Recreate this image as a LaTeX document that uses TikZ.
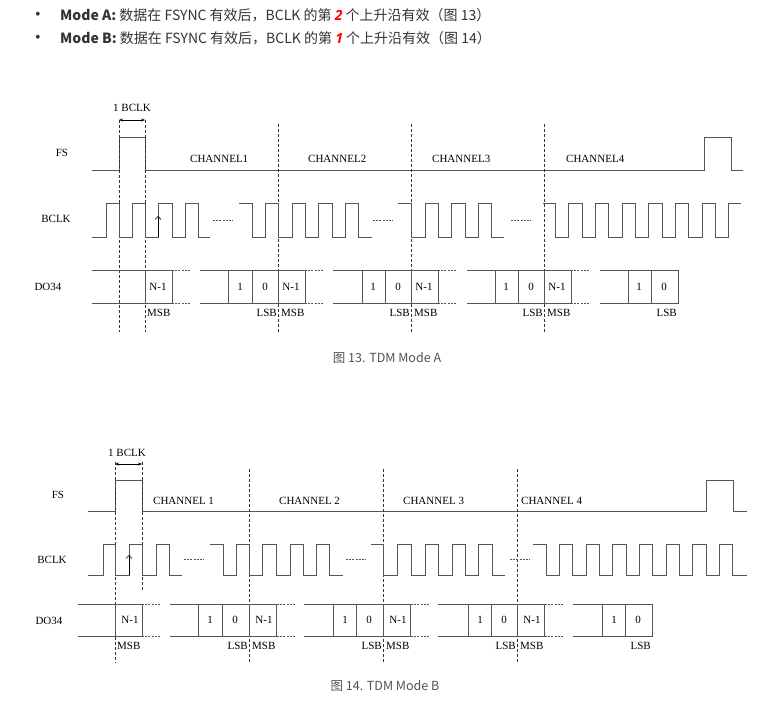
\documentclass[tikz,border=0pt]{standalone}
\usepackage{fontspec}
\setmainfont{Liberation Serif}
\newfontfamily\cjk{Noto Sans CJK SC}
\newfontfamily\lsans{Open Sans}
\usetikzlibrary{arrows.meta}
\definecolor{wv}{HTML}{555555}
\definecolor{tx}{HTML}{333333}
\begin{document}
\begin{tikzpicture}[x=1pt,y=-1pt,
  w/.style={draw=wv,line width=0.9pt},
  vd/.style={draw=black!80,densely dashed,line width=0.6pt},
  cd/.style={draw=wv,dash pattern=on 2pt off 1.2pt,line width=0.7pt},
  lb/.style={font=\fontsize{11}{12}\selectfont,text=black,inner sep=0pt},
  captxt/.style={font=\cjk\fontsize{12.5}{14}\selectfont,text=tx!85},
  hd/.style={font=\cjk\fontsize{14}{16}\selectfont,text=tx,anchor=west,inner sep=0pt}]
\useasboundingbox (0,0) rectangle (774,706);
% header
\node[hd,font=\fontsize{16}{16}\selectfont] (b1) at (35,16) {\textbullet};
\node[hd] (h1) at (60,15) {\textbf{Mode A:} 数据在 FSYNC 有效后，BCLK 的第 \textcolor{red}{{\lsans\bfseries\itshape 2}} 个上升沿有效（图 13）};
\node[hd,font=\fontsize{16}{16}\selectfont] (b2) at (35,39) {\textbullet};
\node[hd] (h2) at (60,38) {\textbf{Mode B:} 数据在 FSYNC 有效后，BCLK 的第 \textcolor{red}{{\lsans\bfseries\itshape 1}} 个上升沿有效（图 14）};

% ================= Figure 13 =================
\node[lb] (fsA) at (62,153) {FS};
\node[lb] (bcA) at (56,219) {BCLK};
\node[lb] (doA) at (48,287) {DO34};
\draw[w] (92,170) -| (119,137) -| (145,170) -- (704,170) |- (731,137) |- (743,170);
\foreach \x/\t in {190/CHANNEL1,308/CHANNEL2,432/CHANNEL3,566/CHANNEL4}
  \node[lb,anchor=west] at (\x,159) {\t};
\draw[vd] (119,120) -- (119,332);
\draw[vd] (145,120) -- (145,332);
\foreach \x in {278,411,544} \draw[vd] (\x,124) -- (\x,332);
\coordinate (aL) at (119,120); \coordinate (aR) at (145,120);
\draw[line width=0.7pt,{Stealth[length=4pt]}-{Stealth[length=4pt]}] (aL) -- (aR);
\node[lb] (bkA) at (132,108) {1 BCLK};
\def\H{203}\def\L{237}
\draw[w] (92,\L) -| (106,\H) -| (119,\L) -| (132,\H) -| (145,\L) -| (158,\H) -| (172,\L) -| (185,\H) -| (198,\L) -- (210,\L);
\draw[w] (239,\H) -| (252,\L) -| (265,\H) -| (278,\L) -| (292,\H) -| (305,\L) -| (318,\H) -| (332,\L) -| (345,\H) -| (358,\L) -- (372,\L);
\draw[w] (398,\H) -| (411,\L) -| (425,\H) -| (438,\L) -| (451,\H) -| (465,\L) -| (478,\H) -| (491,\L) -- (504,\L);
\draw[w] (543,\H) -| (555,\L) -| (568,\H) -| (582,\L) -| (595,\H) -| (608,\L) -| (622,\H) -| (635,\L) -| (648,\H) -| (662,\L) -| (675,\H) -| (688,\L) -| (702,\H) -| (715,\L) -| (728,\H) -- (741,\H);
\foreach \a in {213,373,511} \draw[cd] (\a,220) -- ++(20,0);
\draw[line width=0.6pt,-{Straight Barb[length=3pt]}] (158,237) -- (158,216);
% DO34
\def\T{270}\def\B{303}
\draw[w] (92,\T) -- (172,\T) -- (172,\B) -- (92,\B); \draw[w] (145,\T) -- (145,\B);
\draw[w] (200,\T) -- (305,\T) -- (305,\B) -- (200,\B);
\draw[w] (333,\T) -- (438,\T) -- (438,\B) -- (333,\B);
\draw[w] (467,\T) -- (571,\T) -- (571,\B) -- (467,\B);
\draw[w] (600,\T) -- (678,\T) -- (678,\B) -- (600,\B);
\foreach \x in {228,252,278,362,385,411,495,518,544,628,651} \draw[w] (\x,\T) -- (\x,\B);
\foreach \a in {172,305,438,571} {\draw[cd] (\a,\T) -- ++(18,0); \draw[cd] (\a,\B) -- ++(18,0);}
\foreach \x in {158,291,424,557} \node[lb] at (\x,287) {N-1};
\foreach \x in {240,373,506,639} \node[lb] at (\x,287) {1};
\foreach \x in {265,398,531,664} \node[lb] at (\x,287) {0};
\foreach \x in {147,281,414,547} \node[lb,anchor=west] at (\x,313) {MSB};
\foreach \x in {277,410,543,677} \node[lb,anchor=east] at (\x,313) {LSB};
\node[captxt] (capA) at (387,358) {图 13. TDM Mode A};

% ================= Figure 14 =================
\node[lb] (fsB) at (58,495) {FS};
\node[lb] (bcB) at (52,560) {BCLK};
\node[lb] (doB) at (49,621) {DO34};
\draw[w] (88,511) -| (115,480) -| (142,511) -- (706,511) |- (733,480) |- (747,511);
\foreach \x/\t in {153/CHANNEL 1,279/CHANNEL 2,403/CHANNEL 3,521/CHANNEL 4}
  \node[lb,anchor=west] at (\x,501) {\t};
\draw[vd] (115,462) -- (115,663);
\draw[vd] (142,462) -- (142,590);
\foreach \x in {249,383,517} \draw[vd] (\x,469) -- (\x,663);
\coordinate (bL) at (115,464); \coordinate (bR) at (142,464);
\draw[line width=0.7pt,{Stealth[length=4pt]}-{Stealth[length=4pt]}] (bL) -- (bR);
\node[lb] (bkB) at (127,453) {1 BCLK};
\def\H{544}\def\L{575}
\draw[w] (88,\L) -| (103,\H) -| (115,\L) -| (129,\H) -| (142,\L) -| (156,\H) -| (169,\L) -- (182,\L);
\draw[w] (210,\H) -| (223,\L) -| (236,\H) -| (249,\L) -| (262,\H) -| (276,\L) -| (290,\H) -| (303,\L) -| (316,\H) -| (329,\L) -- (343,\L);
\draw[w] (371,\H) -| (383,\L) -| (397,\H) -| (411,\L) -| (425,\H) -| (438,\L) -| (452,\H) -| (465,\L) -| (478,\H) -| (492,\L) -- (505,\L);
\draw[w] (533,\H) -| (546,\L) -| (559,\H) -| (572,\L) -| (586,\H) -| (599,\L) -| (612,\H) -| (626,\L) -| (639,\H) -| (652,\L) -| (666,\H) -| (679,\L) -| (692,\H) -| (706,\L) -| (719,\H) -| (732,\L) -- (747,\L);
\foreach \a in {184,346,510} \draw[cd] (\a,559) -- ++(20,0);
\draw[line width=0.6pt,-{Straight Barb[length=3pt]}] (129,575) -- (129,555);
\def\T{604}\def\B{636}
\draw[w] (78,\T) -- (142,\T) -- (142,\B) -- (78,\B); \draw[w] (115,\T) -- (115,\B);
\draw[w] (170,\T) -- (276,\T) -- (276,\B) -- (170,\B);
\draw[w] (304,\T) -- (410,\T) -- (410,\B) -- (304,\B);
\draw[w] (438,\T) -- (544,\T) -- (544,\B) -- (438,\B);
\draw[w] (573,\T) -- (652,\T) -- (652,\B) -- (573,\B);
\foreach \x in {198,222,249,333,356,383,468,491,517,602,625} \draw[w] (\x,\T) -- (\x,\B);
\foreach \a in {142,277,411,545} {\draw[cd] (\a,\T) -- ++(18,0); \draw[cd] (\a,\B) -- ++(18,0);}
\foreach \x in {130,264,398,532} \node[lb] at (\x,620) {N-1};
\foreach \x in {210,345,480,614} \node[lb] at (\x,620) {1};
\foreach \x in {235,369,504,638} \node[lb] at (\x,620) {0};
\foreach \x in {117,252,386,520} \node[lb,anchor=west] at (\x,646) {MSB};
\foreach \x in {248,382,516,651} \node[lb,anchor=east] at (\x,646) {LSB};
\node[captxt] (capB) at (385,686) {图 14. TDM Mode B};
\end{tikzpicture}
\end{document}
